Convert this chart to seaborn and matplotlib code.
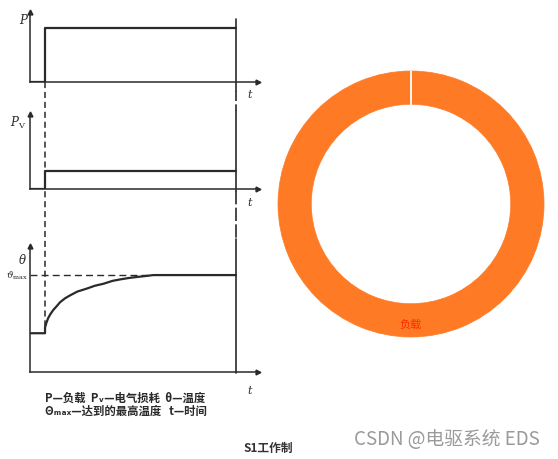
import matplotlib.pyplot as plt
import seaborn as sns

# S1 duty diagram (time in arbitrary units, switch on / off)
t_on, t_off, t_end = 0.73, 10.0, 11.07
p_t = [0.0, t_on, t_off]
p_val = [0.0, 1.0, 1.0]
pv_t = [0.0, t_on, t_off]
pv_val = [0.0, 0.30, 0.30]
theta_t = [0.0, 0.73, 0.73, 0.80, 0.89, 1.00, 1.13, 1.30, 1.46, 1.70, 1.94, 2.30,
           2.75, 3.15, 3.56, 4.00, 4.37, 4.80, 5.18, 5.60, 5.99, 10.0]
theta_val = [0.40, 0.40, 0.46, 0.51, 0.56, 0.60, 0.64, 0.68, 0.72, 0.76, 0.79, 0.83,
             0.86, 0.89, 0.91, 0.94, 0.955, 0.97, 0.98, 0.99, 1.0, 1.0]
theta_max = 1.0

# donut
pie_labels = ["负载"]
pie_values = [100]

caption_1 = "P—负载  Pᵥ—电气损耗  θ—温度"
caption_2 = "Θₘₐₓ—达到的最高温度   t—时间"
title = "S1工作制"
watermark = "CSDN @电驱系统 EDS"

W, H = 558, 460
INK = "#2a2a2a"


def box(l, t, r, b):
    return [l / W, 1 - b / H, (r - l) / W, (b - t) / H]


sns.set_theme(style="white")
plt.rcParams['font.family'] = ['Noto Sans CJK SC', 'DejaVu Sans']
plt.rcParams['mathtext.fontset'] = 'dejavuserif'

fig = plt.figure(figsize=(W / 100, H / 100), dpi=100)


def panel(rect, ymax, label, xs, ys, steps=True):
    ax = fig.add_axes(rect)
    ax.set_xlim(0, t_end)
    ax.set_ylim(0, ymax)
    for s in ["top", "right"]:
        ax.spines[s].set_visible(False)
    for s in ["left", "bottom"]:
        ax.spines[s].set_color(INK)
        ax.spines[s].set_linewidth(1.1)
    ax.set_xticks([])
    ax.set_yticks([])
    ax.patch.set_alpha(0)
    ax.plot(0, 1, marker="^", ms=3.5, color=INK, transform=ax.transAxes, clip_on=False)
    ax.plot(1, 0, marker=">", ms=3.5, color=INK, transform=ax.transAxes, clip_on=False)
    if steps:
        sns.lineplot(x=xs, y=ys, ax=ax, color=INK, lw=1.6, drawstyle="steps-post",
                     estimator=None, sort=False)
    else:
        sns.lineplot(x=xs, y=ys, ax=ax, color=INK, lw=1.6, estimator=None, sort=False)
    ax.text(-0.015, 0.9, label, transform=ax.transAxes, ha="right", va="center",
            fontsize=8.5, color=INK, family="DejaVu Serif", style="italic")
    ax.text(0.965, -0.1, "t", transform=ax.transAxes, ha="center", va="top",
            fontsize=8, color=INK, family="DejaVu Serif", style="italic")
    return ax


ax1 = panel(box(30, 13, 258, 83), 1.3, "P", p_t, p_val)
ax2 = panel(box(30, 115, 258, 190), 1.25, r"$P_\mathrm{V}$", pv_t, pv_val)
ax3 = panel(box(30, 247, 258, 373), 1.3, r"$\theta$", theta_t, theta_val, steps=False)
ax3.plot([0, 5.8], [theta_max, theta_max], ls=(0, (5, 3)), color=INK, lw=1)
ax3.text(-0.01, theta_max / 1.3, r"$\vartheta_{\max}$", transform=ax3.transAxes,
         ha="right", va="center", fontsize=6.5, color=INK)

# overlay for the lines that cross panels (y in pixels)
ov = fig.add_axes(box(30, 13, 258, 376))
ov.set_xlim(0, t_end)
ov.set_ylim(376, 13)
ov.axis("off")
ov.patch.set_alpha(0)
ov.plot([t_on, t_on], [83, 334], ls=(0, (4, 2.5)), color=INK, lw=1.1)
ov.plot([t_off, t_off], [20, 92], color=INK, lw=1.2)
ov.plot([t_off, t_off], [92, 112], ls=(0, (6, 2)), color=INK, lw=1.2)
ov.plot([t_off, t_off], [112, 192], color=INK, lw=1.2)
ov.plot([t_off, t_off], [192, 240], ls=(0, (8, 2)), color=INK, lw=1.2)
ov.plot([t_off, t_off], [240, 374], color=INK, lw=1.2)

fig.text(45 / W, 1 - 398 / H, caption_1, ha="left", va="center", fontsize=8.2,
         color=INK, fontweight="bold")
fig.text(45 / W, 1 - 411 / H, caption_2, ha="left", va="center", fontsize=8.2,
         color=INK, fontweight="bold")

# donut
axp = fig.add_axes(box(278, 72, 544, 338))
start = 90
axp.pie(pie_values, startangle=start, counterclock=False, radius=1,
        colors=["#FF7A24"],
        wedgeprops=dict(width=0.25, edgecolor="#FF7A24", linewidth=0.5))
axp.set_xlim(-1, 1)
axp.set_ylim(-1, 1)
# white border where the slice starts
axp.plot([0, 0], [0.74, 1.01], color="white", lw=1.3)
axp.text(0, -0.9, pie_labels[0], ha="center", va="center", fontsize=8,
         color="#FF2A00")

fig.text(268 / W, 1 - 448 / H, title, ha="center", va="center", fontsize=8.5,
         fontweight="bold", color="#333333")
fig.text(447 / W, 1 - 440 / H, watermark, ha="center", va="center", fontsize=13.5,
         color="#9a9a9a")

fig.savefig("out.png", dpi=100)
